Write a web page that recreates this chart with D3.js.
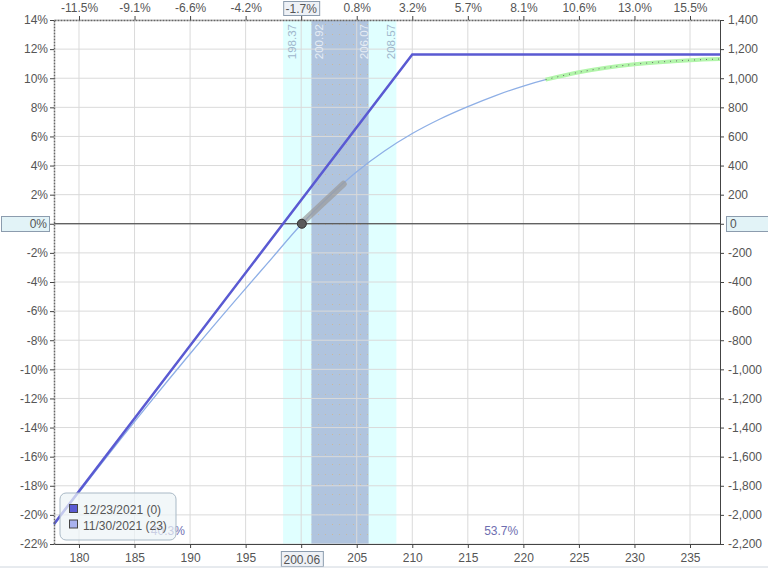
<!DOCTYPE html>
<html>
<head>
<meta charset="utf-8">
<script src="https://cdn.jsdelivr.net/npm/d3@7"></script>
<style>
  body { margin: 0; background: #fff; }
  svg { font-family: "Liberation Sans", Arial, sans-serif; }
  .tick text { fill: #555; font-size: 12px; }
</style>
</head>
<body>
<div id="chart"></div>
<script>
// Price ticks on the bottom axis and the matching % change labels on the top axis
const priceTicks = [180, 185, 190, 195, 200, 205, 210, 215, 220, 225, 230, 235];
const changeLabels = ["-11.5%", "-9.1%", "-6.6%", "-4.2%", "-1.7%", "0.8%", "3.2%", "5.7%", "8.1%", "10.6%", "13.0%", "15.5%"];
const pctTicks = [14, 12, 10, 8, 6, 4, 2, 0, -2, -4, -6, -8, -10, -12, -14, -16, -18, -20, -22];
const dollarTicks = [1400, 1200, 1000, 800, 600, 400, 200, 0, -200, -400, -600, -800, -1000, -1200, -1400, -1600, -1800, -2000, -2200];

// Expiration line (12/23/2021)
const expPrices = [177.75, 198.37, 210, 237.7];
const expValues = [-2062, 0, 1163, 1163];

// Today line (11/30/2021, 23 days left)
const nowPrices = [177.75, 182, 186, 190, 194, 197, 200.06, 202.5, 205, 207.5, 210, 212.5, 215, 217.5, 220, 222, 225, 230, 235, 237.7];
const nowValues = [-2070, -1649, -1265, -893, -533, -269, 0, 188, 358, 500, 620, 720, 805, 881, 946, 990, 1041, 1096, 1124, 1132];
const greenFrom = 222;

// Expected move highlight along today line
const movePrices = [200.06, 203.8];
const moveValues = [0, 266];

// Shaded ranges
const bandOuter = [198.37, 208.57];
const bandInner = [200.92, 206.07];

const currentPrice = 200.06;
const probLabels = ["40.3%", "53.7%"];
const probPrices = [188, 218];
const legendLabels = ["12/23/2021 (0)", "11/30/2021 (23)"];
const legendColors = ["#5a5ad2", "#a9b2ee"];

const width = 768, height = 568;
const margin = { top: 20, right: 48, bottom: 24, left: 54 };

const svg = d3.select("#chart").append("svg")
  .attr("width", width)
  .attr("height", height);

const x = d3.scaleLinear().domain([177.75, 237.7]).range([margin.left, width - margin.right]);
const yPct = d3.scaleLinear().domain([-22, 14]).range([height - margin.bottom, margin.top]);
const yUsd = d3.scaleLinear().domain([-2200, 1400]).range([height - margin.bottom, margin.top]);

// dotted pattern for the inner band
const defs = svg.append("defs");
const pat = defs.append("pattern").attr("id", "dots")
  .attr("width", 7).attr("height", 10).attr("patternUnits", "userSpaceOnUse");
pat.append("rect").attr("width", 7).attr("height", 10).attr("fill", "#b0c4de");
pat.append("rect").attr("x", 3).attr("y", 4).attr("width", 1).attr("height", 1).attr("fill", "#c9b99c");

// bands
svg.append("rect")
  .attr("x", x(bandOuter[0])).attr("y", margin.top)
  .attr("width", x(bandOuter[1]) - x(bandOuter[0]))
  .attr("height", yPct(-22) - yPct(14))
  .attr("fill", "#e0ffff");
svg.append("rect")
  .attr("x", x(bandInner[0])).attr("y", margin.top)
  .attr("width", x(bandInner[1]) - x(bandInner[0]))
  .attr("height", yPct(-22) - yPct(14))
  .attr("fill", "url(#dots)");

// grid lines
svg.append("g").selectAll("line").data(priceTicks).enter().append("line")
  .attr("x1", d => x(d)).attr("x2", d => x(d))
  .attr("y1", margin.top).attr("y2", height - margin.bottom)
  .attr("stroke", "#dadada");
svg.append("g").selectAll("line").data(pctTicks).enter().append("line")
  .attr("x1", margin.left).attr("x2", width - margin.right)
  .attr("y1", d => yPct(d)).attr("y2", d => yPct(d))
  .attr("stroke", "#dadada");

// band value labels, written vertically
const bandLabels = [
  { v: bandOuter[0], dx: 13, c: "#9fb6cc" },
  { v: bandInner[0], dx: 12, c: "#e6edf5" },
  { v: bandInner[1], dx: -1, c: "#e6edf5" },
  { v: bandOuter[1], dx: -1, c: "#9fb6cc" }
];
svg.append("g").selectAll("text").data(bandLabels).enter().append("text")
  .attr("transform", d => `translate(${x(d.v) + d.dx},${margin.top + 4}) rotate(-90)`)
  .attr("text-anchor", "end")
  .attr("font-size", 11.5)
  .attr("fill", d => d.c)
  .text(d => d.v.toFixed(2));

// zero line
svg.append("line")
  .attr("x1", margin.left).attr("x2", width - margin.right)
  .attr("y1", yUsd(0)).attr("y2", yUsd(0))
  .attr("stroke", "#333");

// today line
const nowData = nowPrices.map((p, i) => ({ p: p, v: nowValues[i] }));
const line = d3.line().x(d => x(d.p)).y(d => yUsd(d.v)).curve(d3.curveMonotoneX);
svg.append("path").datum(nowData)
  .attr("d", line).attr("fill", "none")
  .attr("stroke", "#8eafe6").attr("stroke-width", 1.3);

// green part of today line
const greenData = nowData.filter(d => d.p >= greenFrom);
svg.append("path").datum(greenData)
  .attr("d", line).attr("fill", "none")
  .attr("stroke", "#b2f5aa").attr("stroke-width", 4);
svg.append("path").datum(greenData)
  .attr("d", line).attr("fill", "none")
  .attr("stroke", "#666").attr("stroke-width", 1)
  .attr("stroke-dasharray", "1,5");

// expiration line
const expData = expPrices.map((p, i) => ({ p: p, v: expValues[i] }));
svg.append("path").datum(expData)
  .attr("d", d3.line().x(d => x(d.p)).y(d => yUsd(d.v)))
  .attr("fill", "none")
  .attr("stroke", "#5a5ad2").attr("stroke-width", 2.5);

// expected move highlight
const moveData = movePrices.map((p, i) => ({ p: p, v: moveValues[i] }));
svg.append("path").datum(moveData)
  .attr("d", d3.line().x(d => x(d.p)).y(d => yUsd(d.v) - 1))
  .attr("fill", "none")
  .attr("stroke", "#9a9a9a").attr("stroke-opacity", 0.7)
  .attr("stroke-width", 6.5).attr("stroke-linecap", "round");

// current price marker
svg.append("circle")
  .attr("cx", x(currentPrice)).attr("cy", yUsd(0)).attr("r", 4.5)
  .attr("fill", "#5a5a5a").attr("stroke", "#333");

// probability labels
svg.append("g").selectAll("text").data(probLabels).enter().append("text")
  .attr("x", (d, i) => x(probPrices[i]))
  .attr("y", yUsd(-2200) - 9)
  .attr("text-anchor", "middle")
  .attr("font-size", 12)
  .attr("fill", "#6e6eb0")
  .text(d => d);

// legend, partly see-through like the reference
const legend = svg.append("g").attr("transform", "translate(60,493)");
legend.append("rect")
  .attr("width", 116).attr("height", 47).attr("rx", 6)
  .attr("fill", "#edf4f6").attr("fill-opacity", 0.72)
  .attr("stroke", "#a9b9c6");
legendLabels.forEach((label, i) => {
  legend.append("rect")
    .attr("x", 9.5).attr("y", 11.5 + i * 15.5)
    .attr("width", 8).attr("height", 8)
    .attr("fill", legendColors[i]).attr("stroke", "#444");
  legend.append("text")
    .attr("x", 23).attr("y", 21 + i * 15.5)
    .attr("font-size", 12).attr("fill", "#555")
    .text(label);
});

// axes
const bottomAxis = svg.append("g")
  .attr("transform", `translate(0,${height - margin.bottom})`)
  .call(d3.axisBottom(x).tickValues(priceTicks).tickSize(4).tickSizeOuter(0)
    .tickFormat(d => d === 200 ? "" : d));
const topAxis = svg.append("g")
  .attr("transform", `translate(0,${margin.top})`)
  .call(d3.axisTop(x).tickValues(priceTicks).tickSize(4).tickSizeOuter(0)
    .tickFormat((d, i) => changeLabels[i]));
const leftAxis = svg.append("g")
  .attr("transform", `translate(${margin.left},0)`)
  .call(d3.axisLeft(yPct).tickValues(pctTicks).tickSize(4).tickSizeOuter(0)
    .tickFormat(d => d + "%"));
const rightAxis = svg.append("g")
  .attr("transform", `translate(${width - margin.right},0)`)
  .call(d3.axisRight(yUsd).tickValues(dollarTicks).tickSize(4).tickSizeOuter(0)
    .tickFormat(d => d3.format(",")(d).replace("\u2212", "-")));

[bottomAxis, topAxis, leftAxis, rightAxis].forEach(g => {
  g.selectAll(".tick line").attr("stroke", "#444");
  g.select(".domain").attr("stroke", "#444");
  g.selectAll(".tick text").attr("font-family", "Liberation Sans, Arial, sans-serif").attr("font-size", 12);
});
topAxis.select(".domain").attr("stroke-dasharray", "2,1").attr("stroke-width", 1.5).attr("stroke", "#666");
leftAxis.select(".domain").attr("stroke-dasharray", "2,1").attr("stroke-width", 1.5).attr("stroke", "#666");
topAxis.selectAll(".tick text").attr("dy", "-0.1em");
leftAxis.selectAll(".tick text").attr("x", -6);
rightAxis.selectAll(".tick text").attr("x", 8);
bottomAxis.selectAll(".tick text").attr("dy", "0.9em");

// highlighted labels with boxes
function boxLabel(bx, by, bw, bh, fill, tx, ty, anchor, txt) {
  svg.append("rect").attr("x", bx).attr("y", by).attr("width", bw).attr("height", bh)
    .attr("fill", fill).attr("stroke", "#8c9cae");
  svg.append("text").attr("x", tx).attr("y", ty).attr("text-anchor", anchor)
    .attr("font-size", 12).attr("fill", "#555").text(txt);
}
// current % change on top (hide the normal tick label)
topAxis.selectAll(".tick text").filter(d => d === 200).remove();
boxLabel(x(200) - 17.5, 1.5, 36, 14, "#eef1f6", x(200), 13, "middle", changeLabels[priceTicks.indexOf(200)]);
// current price on bottom
boxLabel(x(currentPrice) - 20.5, 551.5, 42, 15, "#eef1f6", x(currentPrice), 564, "middle", currentPrice.toFixed(2));
// zero on both sides
leftAxis.selectAll(".tick text").filter(d => d === 0).remove();
rightAxis.selectAll(".tick text").filter(d => d === 0).remove();
boxLabel(1.5, 216.5, 48, 15, "#e2f3f7", 47, yPct(0) + 4.5, "end", "0%");
boxLabel(726.5, 216.5, 44, 15, "#e2f3f7", 730, yUsd(0) + 4.5, "start", "0");

// thin line at the very bottom
svg.append("line").attr("x1", 0).attr("x2", width).attr("y1", 567).attr("y2", 567)
  .attr("stroke", "#cfd6de");
</script>
</body>
</html>
